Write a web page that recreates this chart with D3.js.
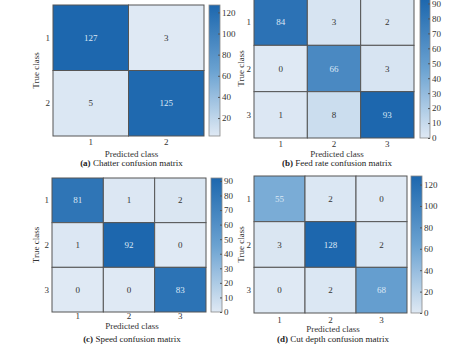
<!DOCTYPE html>
<html>
<head>
<meta charset="utf-8">
<script src="https://cdn.jsdelivr.net/npm/d3@7"></script>
<style>
  body { margin: 0; background: #fff; }
  text { font-family: "Liberation Serif", "Times New Roman", serif; }
</style>
</head>
<body>
<svg id="chart" width="474" height="351"></svg>
<script>
// ---- data ----
var chatterClasses = ["1", "2"];
var chatterMatrix = [[127, 3], [5, 125]];
var chatterTicks = [20, 40, 60, 80, 100, 120];

var feedClasses = ["1", "2", "3"];
var feedMatrix = [[84, 3, 2], [0, 66, 3], [1, 8, 93]];
var feedTicks = [0, 10, 20, 30, 40, 50, 60, 70, 80, 90];

var speedClasses = ["1", "2", "3"];
var speedMatrix = [[81, 1, 2], [1, 92, 0], [0, 0, 83]];
var speedTicks = [0, 10, 20, 30, 40, 50, 60, 70, 80, 90];

var depthClasses = ["1", "2", "3"];
var depthMatrix = [[55, 2, 0], [3, 128, 2], [0, 2, 68]];
var depthTicks = [0, 20, 40, 60, 80, 100, 120];

var titleTags = ["(a)", "(b)", "(c)", "(d)"];
var titleTexts = [" Chatter confusion matrix", " Feed rate confusion matrix",
                  " Speed confusion matrix", " Cut depth confusion matrix"];

// ---- layout (pixel boxes of each panel) ----
var panels = [
    {classes: chatterClasses, matrix: chatterMatrix, ticks: chatterTicks,
     x0: 53, x1: 204, y0: 5, y1: 136, cb0: 209, cb1: 220,
     xTickY: 145, xLabY: 157, titleY: 166, yLabX: 39},
    {classes: feedClasses, matrix: feedMatrix, ticks: feedTicks,
     x0: 254, x1: 414, y0: -1, y1: 138, cb0: 420, cb1: 430,
     xTickY: 147, xLabY: 157, titleY: 166, yLabX: 244},
    {classes: speedClasses, matrix: speedMatrix, ticks: speedTicks,
     x0: 52, x1: 206, y0: 178, y1: 312, cb0: 211, cb1: 222,
     xTickY: 319, xLabY: 329, titleY: 342, yLabX: 39},
    {classes: depthClasses, matrix: depthMatrix, ticks: depthTicks,
     x0: 254, x1: 407, y0: 176, y1: 313, cb0: 411, cb1: 422,
     xTickY: 323, xLabY: 332, titleY: 342, yLabX: 244}
];

var lightColor = "#dfe9f4",
    midColor = "#6aa2d1",
    darkColor = "#1d67ae";

var svg = d3.select("#chart");

panels.forEach(function(p, idx) {
    var flat = [].concat.apply([], p.matrix);
    var vmin = d3.min(flat), vmax = d3.max(flat);

    var color = d3.scaleLinear()
        .domain([vmin, (vmin + vmax) / 2, vmax])
        .range([lightColor, midColor, darkColor]);

    var x = d3.scaleBand().domain(p.classes).range([p.x0, p.x1]);
    var y = d3.scaleBand().domain(p.classes).range([p.y0, p.y1]);

    var g = svg.append("g");

    // cells
    var cells = [];
    p.matrix.forEach(function(row, i) {
        row.forEach(function(v, j) {
            cells.push({r: p.classes[i], c: p.classes[j], v: v});
        });
    });

    g.selectAll("rect.cell").data(cells).enter().append("rect")
        .attr("class", "cell")
        .attr("x", function(d) { return x(d.c); })
        .attr("y", function(d) { return y(d.r); })
        .attr("width", x.bandwidth())
        .attr("height", y.bandwidth())
        .attr("fill", function(d) { return color(d.v); })
        .attr("stroke", "#555")
        .attr("stroke-width", 1);

    g.selectAll("text.val").data(cells).enter().append("text")
        .attr("class", "val")
        .attr("x", function(d) { return x(d.c) + x.bandwidth() / 2; })
        .attr("y", function(d) { return y(d.r) + y.bandwidth() / 2; })
        .attr("dy", "0.35em")
        .attr("text-anchor", "middle")
        .style("font-size", "9px")
        .attr("fill", function(d) { return (d.v - vmin) / (vmax - vmin) > 0.4 ? "#dce8f5" : "#333"; })
        .text(function(d) { return d.v; });

    // tick labels
    g.selectAll("text.xt").data(p.classes).enter().append("text")
        .attr("x", function(d) { return x(d) + x.bandwidth() / 2; })
        .attr("y", p.xTickY)
        .attr("text-anchor", "middle")
        .style("font-size", "9px")
        .attr("fill", "#333")
        .text(function(d) { return d; });

    g.selectAll("text.yt").data(p.classes).enter().append("text")
        .attr("x", p.x0 - 3)
        .attr("y", function(d) { return y(d) + y.bandwidth() / 2; })
        .attr("dy", "0.35em")
        .attr("text-anchor", "end")
        .style("font-size", "9px")
        .attr("fill", "#333")
        .text(function(d) { return d; });

    // axis labels
    var cx = (p.x0 + p.cb1) / 2 - 5;
    g.append("text")
        .attr("x", cx).attr("y", p.xLabY)
        .attr("text-anchor", "middle")
        .style("font-size", "9px")
        .attr("fill", "#333")
        .text("Predicted class");

    var t = g.append("text")
        .attr("x", cx).attr("y", p.titleY)
        .attr("text-anchor", "middle")
        .style("font-size", "9px")
        .attr("fill", "#222");
    t.append("tspan").style("font-weight", "bold").text(titleTags[idx]);
    t.append("tspan").text(titleTexts[idx]);

    var cy = (p.y0 + p.y1) / 2;
    g.append("text")
        .attr("transform", "translate(" + p.yLabX + "," + cy + ") rotate(-90)")
        .attr("text-anchor", "middle")
        .style("font-size", "9px")
        .attr("fill", "#333")
        .text("True class");

    // colorbar
    var gradId = "grad" + idx;
    var grad = svg.append("defs").append("linearGradient")
        .attr("id", gradId)
        .attr("x1", "0").attr("y1", "1").attr("x2", "0").attr("y2", "0");
    d3.range(0, 1.0001, 0.1).forEach(function(s) {
        grad.append("stop")
            .attr("offset", s)
            .attr("stop-color", color(vmin + s * (vmax - vmin)));
    });

    var cbScale = d3.scaleLinear().domain([vmin, vmax]).range([p.y1, p.y0]);

    g.append("rect")
        .attr("x", p.cb0).attr("y", p.y0)
        .attr("width", p.cb1 - p.cb0).attr("height", p.y1 - p.y0)
        .attr("fill", "url(#" + gradId + ")")
        .attr("stroke", "#888").attr("stroke-width", 0.8);

    var cbAxis = d3.axisRight(cbScale)
        .tickValues(p.ticks)
        .tickSize(2)
        .tickPadding(1);

    var ax = g.append("g")
        .attr("transform", "translate(" + p.cb1 + ",0)")
        .call(cbAxis);
    ax.select(".domain").remove();
    ax.selectAll(".tick line").attr("stroke", "#555").attr("x2", -2);
    ax.selectAll(".tick text")
        .attr("x", 2)
        .style("font-family", "'Liberation Serif', serif")
        .style("font-size", "9px")
        .attr("fill", "#333");
});
</script>
</body>
</html>
